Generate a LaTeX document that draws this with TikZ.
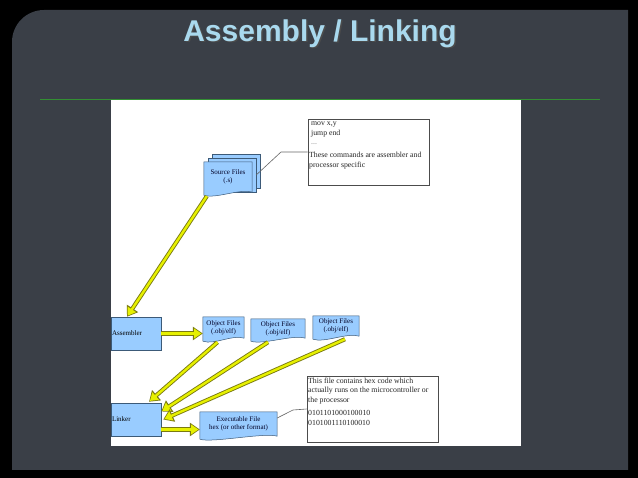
\documentclass[tikz,border=0pt]{standalone}
\usepackage{fontspec}
\setmainfont{Liberation Serif}
\newfontfamily\titlefont{Liberation Sans}
\usetikzlibrary{arrows.meta}
\definecolor{panel}{HTML}{3A3F47}
\definecolor{docblue}{HTML}{99CCFF}
\definecolor{docline}{HTML}{3C5A78}
\definecolor{titleblue}{HTML}{A9D9EE}
\definecolor{arrowy}{HTML}{E6F000}
\definecolor{arrowo}{HTML}{7A7A10}
\newcommand\wavydoc[1]{\filldraw[docblue,draw=docline,line width=0.5pt] (#1.north west) -- (#1.north east) -- ([yshift=4pt]#1.south east) .. controls ([xshift=-12pt,yshift=8pt]#1.south east) and ([xshift=12pt,yshift=-3pt]#1.south west) .. ([yshift=1pt]#1.south west) -- cycle;}
\newcommand\fatarrow[2]{\draw[arrowo,line width=4.2pt,-{Triangle[length=10pt,width=13pt]}] #1 -- #2;
 \draw[arrowy,line width=2.4pt,shorten >=1.3pt,-{Triangle[length=7.5pt,width=9.5pt]}] #1 -- #2;}
\tikzset{
 box/.style={draw=docline,fill=docblue,line width=0.5pt,minimum width=50pt,minimum height=33pt,inner sep=1pt},
 doc/.style={minimum width=#1,minimum height=25pt,inner sep=0pt},
 lbl/.style={font=\fontsize{7}{8}\selectfont,align=center,text=black!85!blue},
 note/.style={draw=black!70,line width=0.6pt,fill=white},
 notetext/.style={font=\fontsize{7.8}{9.8}\selectfont,align=left,anchor=north west,inner sep=0pt,text=black!85},
 thin/.style={draw=black!60,line width=0.6pt}
}
\begin{document}
\begin{tikzpicture}[x=1pt,y=-1pt]
\useasboundingbox (0,0) rectangle (638,478);
\fill[black] (0,0) rectangle (638,478);
\fill[panel] (12,470) -- (12,42) arc[start angle=180,end angle=270,radius=32] -- (628,10) -- (628,470) -- cycle;
\node[font=\titlefont\bfseries\fontsize{30}{34}\selectfont,text=black!70] (ttls) at (321.5,35) {Assembly / Linking};
\node[font=\titlefont\bfseries\fontsize{30}{34}\selectfont,text=titleblue] (ttl) at (320,33.5) {Assembly / Linking};
\draw[green!45!black!80,line width=0.8pt] (40,99) -- (600,99);
\fill[white] (111,100) rectangle (521,446);
% source files stack
\node[doc=48pt,minimum height=34pt] (s3) at (236,171) {};
\node[doc=48pt,minimum height=34pt] (s2) at (232,175) {};
\node[doc=48pt,minimum height=34pt] (s) at (228,179) {};
\filldraw[docblue,draw=docline,line width=0.5pt] (s3.north west) rectangle (s3.south east);
\filldraw[docblue,draw=docline,line width=0.5pt] (s2.north west) rectangle (s2.south east);
\wavydoc{s}
\node[lbl] (st) at ([yshift=2pt]s.center) {Source Files\\(.s)};
% note 1
\node[note,minimum width=121pt,minimum height=66pt,inner sep=0pt] (n1) at (368.5,152) {};
\node[notetext] (n1t) at (309,121.5) {\ mov x,y\\ \ jump end\\ \ \textcolor{black!50}{...}\\[3pt]These commands are assembler and\\processor specific};
\coordinate (k1) at (281,152);
\draw[thin] (s2.east) -- (k1) -- (n1.west);
% assembler / linker
\node[box,font=\fontsize{7}{8}\selectfont,text width=48pt,align=left] (asm) at (136,333.5) {Assembler};
\node[box,font=\fontsize{7}{8}\selectfont,text width=48pt,align=left] (lk) at (136,419.5) {Linker};
% object files
\node[doc=41pt] (o1) at (223.5,329.5) {}; \wavydoc{o1}
\node[lbl] (o1t) at ([yshift=2pt]o1.center) {Object Files\\(.obj/elf)};
\node[doc=54pt,minimum height=23pt] (o2) at (278,330.5) {}; \wavydoc{o2}
\node[lbl] (o2t) at ([yshift=2pt]o2.center) {Object Files\\(.obj/elf)};
\node[doc=46pt,minimum height=24pt] (o3) at (336,328) {}; \wavydoc{o3}
\node[lbl] (o3t) at ([yshift=2pt]o3.center) {Object Files\\(.obj/elf)};
% executable
\node[doc=77pt,minimum height=28pt] (ex) at (238.5,426) {}; \wavydoc{ex}
\node[lbl] (ext) at ([yshift=2pt]ex.center) {Executable File\\hex (or other format)};
% note 2
\node[note,minimum width=131pt,minimum height=66pt,inner sep=0pt] (n2) at (372.5,409) {};
\node[notetext] (n2t) at (308,377.5) {This file contains hex code which\\actually runs on the microcontroller or\\the processor\\[3pt]0101101000100010\\0101001110100010};
\coordinate (k2) at (293,410);
\draw[thin] ([yshift=8pt]ex.east) -- (k2) -- (n2.west);
% arrows
\fatarrow{([xshift=3pt]s.south west)}{([xshift=-9pt]asm.north)}
\fatarrow{(asm.east)}{(asm.east -| o1.west)}
\fatarrow{([xshift=-6pt]o1.south)}{([xshift=13pt,yshift=1pt]lk.north)}
\fatarrow{([xshift=-10pt]o2.south)}{([yshift=8pt]lk.east)}
\fatarrow{([xshift=9pt,yshift=1pt]o3.south)}{([xshift=2pt]lk.east)}
\fatarrow{([yshift=-10pt]lk.east)}{([yshift=-10pt]lk.east -| ex.west)}
\end{tikzpicture}
\end{document}
